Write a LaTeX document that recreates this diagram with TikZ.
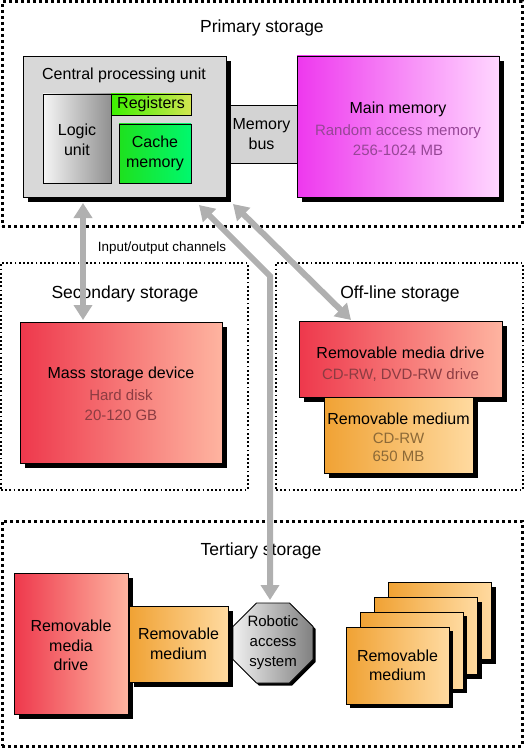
\documentclass[tikz,border=0pt]{standalone}
\usepackage{fontspec}
\setmainfont{Liberation Sans}
\usetikzlibrary{shapes.geometric,shadows,arrows.meta,calc}
\newcommand\myfs[2]{\fontsize{#1}{#2}\selectfont}
\newcommand\mainf{\myfs{16}{19.5}}
\newcommand\titlef{\myfs{17.5}{21}}
\newcommand\subf{\myfs{15}{18}}
\newcommand\iof{\myfs{13.4}{16}}
\newcommand\toppad[2]{\raisebox{0pt}[\dimexpr\height+#1\relax]{#2}}
\definecolor{redL}{RGB}{238,56,76}
\definecolor{redR}{RGB}{254,180,160}
\definecolor{magL}{RGB}{238,56,238}
\definecolor{magR}{RGB}{255,214,255}
\definecolor{orL}{RGB}{240,162,52}
\definecolor{orR}{RGB}{255,218,160}
\definecolor{arrowgray}{RGB}{176,176,176}
\definecolor{subred}{RGB}{140,60,66}
\definecolor{submag}{RGB}{150,70,150}
\definecolor{subor}{RGB}{140,105,55}
\definecolor{cpugray}{RGB}{216,216,216}
\definecolor{busgray}{RGB}{211,211,211}
\definecolor{logL}{RGB}{246,246,246}
\definecolor{logR}{RGB}{144,144,144}
\definecolor{regL}{RGB}{60,240,0}
\definecolor{regR}{RGB}{210,230,80}
\definecolor{cacL}{RGB}{30,225,30}
\definecolor{cacR}{RGB}{0,248,110}
\definecolor{octL}{RGB}{240,240,240}
\definecolor{octR}{RGB}{128,128,128}
\begin{document}
\begin{tikzpicture}[x=1pt,y=-1pt,
  every node/.style={inner sep=0pt,outer sep=0pt,font=\mainf,align=center},
  box/.style={draw=black,line width=0.9pt},
  shad/.style={drop shadow={shadow xshift=5pt,shadow yshift=-5pt,opacity=1,fill=black}},
  shadsm/.style={drop shadow={shadow xshift=4pt,shadow yshift=-4pt,opacity=1,fill=black}},
  redbox/.style={box,shad,left color=redL,right color=redR},
  magbox/.style={box,shad,left color=magL,right color=magR},
  orbox/.style={box,shad,left color=orL,right color=orR},
  cardbox/.style={box,shadsm,left color=orL,right color=orR,minimum width=103pt,minimum height=77pt},
  bigframe/.style={draw=black,line width=3pt,dash pattern=on 3pt off 3pt},
  smallframe/.style={draw=black,line width=1.8pt,dash pattern=on 1.8pt off 2.4pt},
  ttl/.style={font=\titlef},
  ioarrow/.style={draw=arrowgray,line width=6pt,arrows={Triangle[width=18pt,length=15pt]-Triangle[width=18pt,length=15pt]}}
]
\useasboundingbox (0,0) rectangle (525,749);
% frames
\node[bigframe,minimum width=520pt,minimum height=224pt] (prim) at (262,114) {};
\node[ttl] (primT) at (262,27.5) {Primary storage};
\node[smallframe,minimum width=247pt,minimum height=227pt] (sec) at (124.5,376.5) {};
\node[ttl] (secT) at (125,294) {Secondary storage};
\node[smallframe,minimum width=247pt,minimum height=227pt] (off) at (399.5,376.5) {};
\node[ttl] (offT) at (400,294) {Off-line storage};
\node[bigframe,minimum width=520pt,minimum height=225pt] (ter) at (262,633.5) {};
\node[ttl] (terT) at (261,551) {Tertiary storage};
% primary storage
\node[box,fill=busgray,minimum width=71pt,minimum height=58pt] (bus) at (261.5,134) {Memory\\bus};
\node[box,shad,fill=cpugray,minimum width=203pt,minimum height=141pt] (cpu) at (124.5,126.5) {};
\node (cpuT) at (124,75.5) {Central processing unit};
\node[box,left color=logL,right color=logR,minimum width=68pt,minimum height=89pt] (logic) at (77,138.5) {\toppad{3pt}{Logic}\\unit};
\node[box,left color=regL,right color=regR,minimum width=80pt,minimum height=21pt] (reg) at (151,104.5) {Registers};
\node[box,left color=cacL,right color=cacR,minimum width=72pt,minimum height=59pt] (cache) at (155,153.5) {Cache\\memory};
\node[magbox,minimum width=202pt,minimum height=141pt] (mm) at (398,126.5) {\toppad{4pt}{Main memory}\\[3pt]{\subf\color{submag}Random access memory}\\{\subf\color{submag}256-1024 MB}};
% secondary storage
\node[redbox,minimum width=202pt,minimum height=141pt] (mass) at (121,392.5) {\toppad{2pt}{Mass storage device}\\[3pt]{\subf\color{subred}Hard disk}\\{\subf\color{subred}20-120 GB}};
% off-line storage
\node[redbox,minimum width=203pt,minimum height=76pt] (rmd) at (400.5,359) {\toppad{10pt}{Removable media drive}\\[1pt]{\subf\color{subred}CD-RW, DVD-RW drive}};
\node[orbox,minimum width=149pt,minimum height=76pt] (rm) at (398.5,435) {\toppad{5pt}{Removable medium}\\[-1pt]{\subf\color{subor}CD-RW}\\[-1pt]{\subf\color{subor}650 MB}};
% tertiary storage
\node[redbox,minimum width=114pt,minimum height=141pt] (trmd) at (71,643.5) {\toppad{4pt}{Removable}\\media\\drive};
\node[orbox,minimum width=99pt,minimum height=76pt] (trm) at (178.5,644) {Removable\\medium};
\node[box,drop shadow={shadow xshift=2.5pt,shadow yshift=-2.5pt,opacity=1,fill=black},left color=octL,right color=octR,regular polygon,regular polygon sides=8,minimum size=86.6pt,font=\myfs{15}{20}] (robot) at (273,643) {Robotic\\access\\system};
\node[cardbox] (c4) at (440.4,621.4) {};
\node[cardbox] (c3) at (426.1,636.1) {};
\node[cardbox] (c2) at (411.8,650.8) {};
\node[cardbox] (c1) at (397.5,665.5) {Removable\\medium};
% connectors
\draw[ioarrow] ([xshift=60pt,yshift=-6pt]cpu.south west) -- ([xshift=63pt,yshift=2pt]mass.north west);
\draw[ioarrow] ([xshift=-27pt,yshift=-8pt]cpu.south east) -- ++(71,71) -- ([xshift=-3pt,yshift=43pt]robot.center);
\draw[ioarrow] ([xshift=7pt,yshift=-7pt]cpu.south east) -- ([xshift=52pt,yshift=1pt]rmd.north west);
\node[font=\iof] (io) at (162,248) {Input/output channels};
\end{tikzpicture}
\end{document}
